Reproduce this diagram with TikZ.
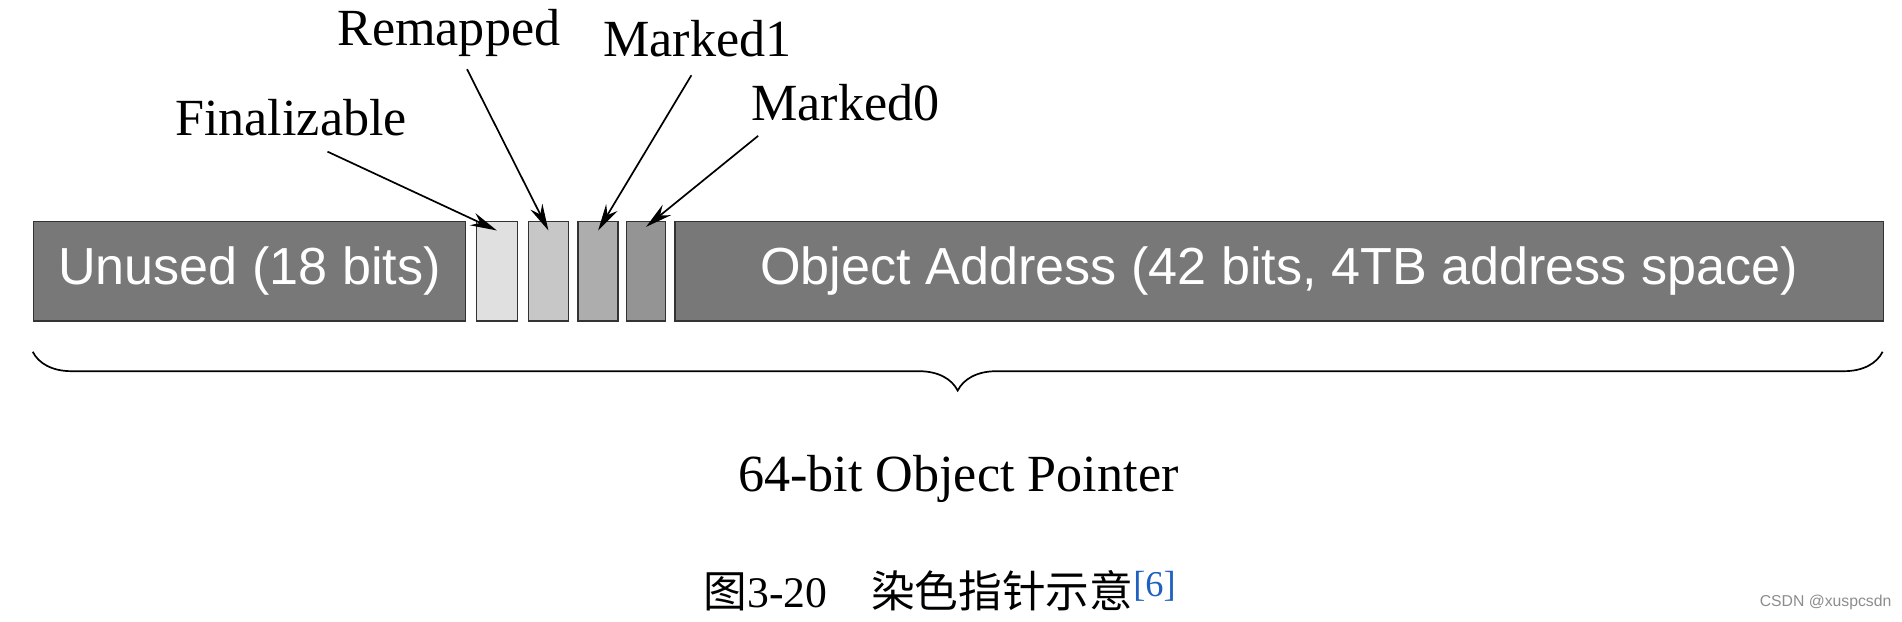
\documentclass[tikz,border=0pt]{standalone}
\usepackage{fontspec}
\setmainfont{Liberation Serif}
\setsansfont{Liberation Sans}
\newfontfamily\cjk{Noto Sans CJK SC}
\usetikzlibrary{decorations.pathreplacing,arrows.meta}
\begin{document}
\begin{tikzpicture}[x=1pt,y=-1pt,
  field/.style={draw=black!80,line width=1.2pt,minimum height=82pt,inner sep=0pt,anchor=north west},
  lbl/.style={font=\fontsize{43}{47}\selectfont},
  arr/.style={-{Stealth[length=22pt,width=11pt]},line width=1.4pt}]
\useasboundingbox (0,0) rectangle (1568,512);
\node[field,fill=black!53,minimum width=356pt,text=white,font=\sffamily\fontsize{43}{47}\selectfont] (unused) at (27,182) {Unused (18 bits)};
\node[field,fill=black!12,minimum width=34pt] (f) at (392,182) {};
\node[field,fill=black!22,minimum width=33pt] (r) at (435,182) {};
\node[field,fill=black!32,minimum width=33pt] (m1) at (476,182) {};
\node[field,fill=black!42,minimum width=32pt] (m0) at (516,182) {};
\node[field,fill=black!53,minimum width=996pt,text=white,font=\sffamily\fontsize{43}{47}\selectfont] (addr) at (556,182) {Object Address (42 bits, 4TB address space)};
\node[lbl] (lf) at (240,97) {Finalizable};
\node[lbl] (lr) at (370,27) {Remapped};
\node[lbl] (lm1) at (575,32) {Marked1};
\node[lbl] (lm0) at (697,85) {Marked0};
\coordinate (af) at (270,125); \coordinate (ar) at (385,57);
\coordinate (am1) at (570,62); \coordinate (am0) at (625,112);
\draw[arr] (af) -- ([yshift=-8pt]f.north);
\draw[arr] (ar) -- ([yshift=-8pt]r.north);
\draw[arr] (am1) -- ([yshift=-8pt]m1.north);
\draw[arr] (am0) -- ([yshift=-5pt]m0.north);
\coordinate (bl) at (27,290); \coordinate (br) at (1552,290);
\draw[decorate,decoration={brace,amplitude=32pt,mirror},line width=1.4pt] (bl) -- (br);
\node[lbl] (ptr) at (790,395) {64-bit Object Pointer};
\node[font=\fontsize{36}{40}\selectfont] (cap) at (775,487) {{\cjk 图}3-20\quad{\cjk 染色指针示意}\textsuperscript{\fontsize{30}{32}\selectfont\color[HTML]{2060C0}[6]}};
\node[font=\sffamily\fontsize{13}{15}\selectfont,text=black!45] (wm) at (1505,497) {CSDN @xuspcsdn};
\end{tikzpicture}
\end{document}
